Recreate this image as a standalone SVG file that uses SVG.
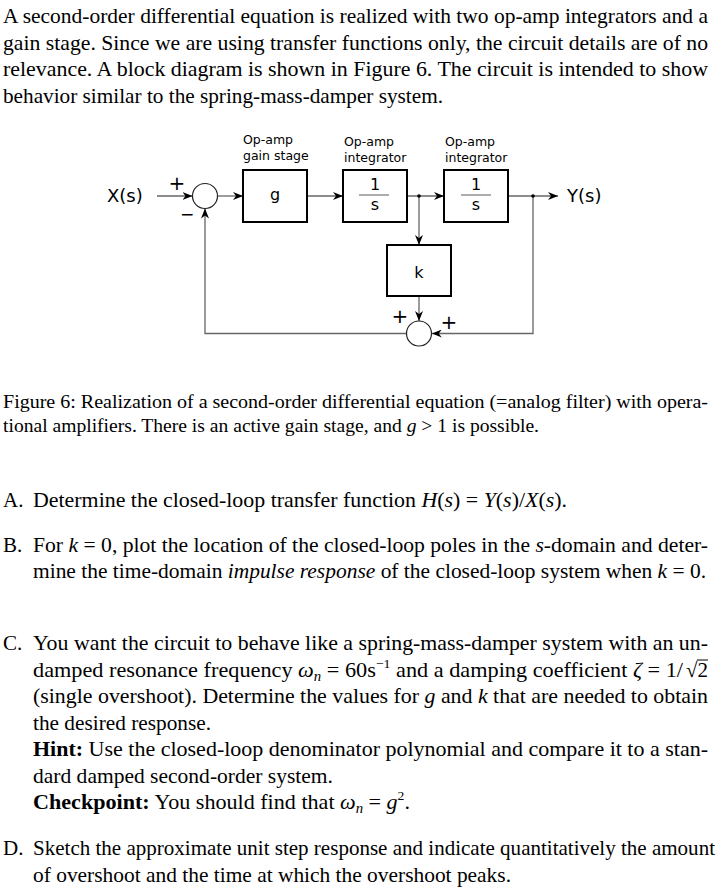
<svg xmlns="http://www.w3.org/2000/svg" width="726" height="894" viewBox="0 0 726 894">
<style>
.t{font-family:"Liberation Serif",serif;font-size:21px;fill:#000}
.cap{font-size:19px}
.i{font-style:italic}
.b{font-weight:bold}
.sf{font-family:"DejaVu Sans",sans-serif;fill:#000}
.lab{font-size:12.5px}
.io{font-size:18px}
.blk{font-size:16px;text-anchor:middle}
.pm{font-size:20px;text-anchor:middle}
.box{fill:#fff;stroke:#000;stroke-width:2}
.sum{fill:#fff;stroke:#222;stroke-width:1.2}
.wire{fill:none;stroke:#666;stroke-width:1.3}
.arr{marker-end:url(#ah)}
</style>
<defs>
<marker id="ah" viewBox="0 0 10 8" refX="10" refY="4" markerWidth="10" markerHeight="8" markerUnits="userSpaceOnUse" orient="auto">
<path d="M10,4 L0,0 L3,4 L0,8 Z" fill="#000"/>
</marker>
</defs>
<rect width="726" height="894" fill="#fff"/>

<g id="intro">
<text class="t" x="3" y="23" textLength="705" lengthAdjust="spacingAndGlyphs">A second-order differential equation is realized with two op-amp integrators and a</text>
<text class="t" x="3" y="49.5" textLength="705" lengthAdjust="spacingAndGlyphs">gain stage. Since we are using transfer functions only, the circuit details are of no</text>
<text class="t" x="3" y="76" textLength="705" lengthAdjust="spacingAndGlyphs">relevance.  A block diagram is shown in Figure 6. The circuit is intended to show</text>
<text class="t" x="3" y="102.5" textLength="440" lengthAdjust="spacingAndGlyphs">behavior similar to the spring-mass-damper system.</text>
</g>

<g id="connectors">
<line class="wire arr" x1="157" y1="196" x2="192.5" y2="196"/>
<line class="wire arr" x1="217.5" y1="196" x2="243" y2="196"/>
<line class="wire arr" x1="307" y1="196" x2="343" y2="196"/>
<line class="wire arr" x1="407" y1="196" x2="444" y2="196"/>
<line class="wire arr" x1="508" y1="196" x2="558" y2="196"/>
<line class="wire arr" x1="419" y1="196" x2="419" y2="245"/>
<line class="wire arr" x1="419" y1="296" x2="419" y2="321"/>
<polyline class="wire arr" points="533,196 533,333.5 431.8,333.5"/>
<polyline class="wire arr" points="406.8,333.5 205,333.5 205,208.5"/>
<circle cx="419" cy="196" r="1.8" fill="#000"/>
<circle cx="533" cy="196" r="1.8" fill="#000"/>
</g>

<g id="input">
<text class="sf io" x="107" y="202">X(s)</text>
</g>
<g id="output">
<text class="sf io" x="567" y="202">Y(s)</text>
</g>

<g id="sum1">
<circle class="sum" cx="205" cy="196" r="12.5"/>
<text class="sf pm" x="177" y="190">+</text>
<text class="sf pm" x="187" y="220" style="font-size:17px">−</text>
</g>

<g id="gain">
<text class="sf lab" x="243" y="143.5">Op-amp</text>
<text class="sf lab" x="243" y="159.5">gain stage</text>
<rect class="box" x="243" y="170" width="64" height="52"/>
<text class="sf blk" x="275" y="200">g</text>
</g>

<g id="int1">
<text class="sf lab" x="344" y="145.5">Op-amp</text>
<text class="sf lab" x="344" y="161.5">integrator</text>
<rect class="box" x="343" y="170" width="64" height="52"/>
<text class="sf blk" x="375" y="190">1</text>
<line x1="359" y1="195" x2="389" y2="195" stroke="#777" stroke-width="1.2"/>
<text class="sf blk" x="375" y="210">s</text>
</g>

<g id="int2">
<text class="sf lab" x="445" y="145.5">Op-amp</text>
<text class="sf lab" x="445" y="161.5">integrator</text>
<rect class="box" x="444" y="170" width="64" height="52"/>
<text class="sf blk" x="476" y="190">1</text>
<line x1="461" y1="195" x2="491" y2="195" stroke="#777" stroke-width="1.2"/>
<text class="sf blk" x="476" y="210">s</text>
</g>

<g id="kgain">
<rect class="box" x="387" y="245" width="64" height="51"/>
<text class="sf blk" x="419" y="277.5">k</text>
</g>

<g id="sum2">
<circle class="sum" cx="419" cy="333.5" r="12.5"/>
<text class="sf pm" x="400" y="322.5">+</text>
<text class="sf pm" x="449" y="329">+</text>
</g>

<g id="caption">
<text class="t cap" x="3" y="408" textLength="705" lengthAdjust="spacingAndGlyphs">Figure 6:  Realization of a second-order differential equation (=analog filter) with opera-</text>
<text class="t cap" x="3" y="432" textLength="536" lengthAdjust="spacingAndGlyphs">tional amplifiers. There is an active gain stage, and <tspan class="i">g</tspan> &gt; 1 is possible.</text>
</g>

<g id="qA">
<text class="t" x="3" y="506.5">A.</text>
<text class="t" x="33" y="506.5" textLength="534" lengthAdjust="spacingAndGlyphs">Determine the closed-loop transfer function <tspan class="i">H</tspan>(<tspan class="i">s</tspan>) = <tspan class="i">Y</tspan>(<tspan class="i">s</tspan>)/<tspan class="i">X</tspan>(<tspan class="i">s</tspan>).</text>
</g>

<g id="qB">
<text class="t" x="3" y="551.5">B.</text>
<text class="t" x="33" y="551.5" textLength="675" lengthAdjust="spacingAndGlyphs">For <tspan class="i">k</tspan> = 0, plot the location of the closed-loop poles in the <tspan class="i">s</tspan>-domain and deter-</text>
<text class="t" x="33" y="578" textLength="673" lengthAdjust="spacingAndGlyphs">mine the time-domain <tspan class="i">impulse response</tspan> of the closed-loop system when <tspan class="i">k</tspan> = 0.</text>
</g>

<g id="qC">
<text class="t" x="3" y="650">C.</text>
<text class="t" x="33" y="650" textLength="675" lengthAdjust="spacingAndGlyphs">You want the circuit to behave like a spring-mass-damper system with an un-</text>
<text class="t" x="33" y="676.5" textLength="650" lengthAdjust="spacingAndGlyphs">damped resonance frequency <tspan class="i">ω</tspan><tspan class="i" font-size="14" dy="4">n</tspan><tspan dy="-4"> = 60s</tspan><tspan font-size="13" dy="-9">−1</tspan><tspan dy="9"> and a damping coefficient </tspan><tspan class="i">ζ</tspan> = 1/</text>
<text class="t" x="686" y="676.5">√2</text>
<line x1="697" y1="660" x2="708" y2="660" stroke="#000" stroke-width="1"/>
<text class="t" x="33" y="703" textLength="675" lengthAdjust="spacingAndGlyphs">(single overshoot). Determine the values for <tspan class="i">g</tspan> and <tspan class="i">k</tspan> that are needed to obtain</text>
<text class="t" x="33" y="729.5" textLength="178" lengthAdjust="spacingAndGlyphs">the desired response.</text>
<text class="t" x="33" y="756" textLength="675" lengthAdjust="spacingAndGlyphs"><tspan class="b">Hint:</tspan> Use the closed-loop denominator polynomial and compare it to a stan-</text>
<text class="t" x="33" y="782.5" textLength="300" lengthAdjust="spacingAndGlyphs">dard damped second-order system.</text>
<text class="t" x="33" y="809" textLength="377" lengthAdjust="spacingAndGlyphs"><tspan class="b">Checkpoint:</tspan> You should find that <tspan class="i">ω</tspan><tspan class="i" font-size="14" dy="4">n</tspan><tspan dy="-4"> = </tspan><tspan class="i">g</tspan><tspan font-size="13" dy="-9">2</tspan><tspan dy="9">.</tspan></text>
</g>

<g id="qD">
<text class="t" x="3" y="855">D.</text>
<text class="t" x="33" y="855" textLength="682" lengthAdjust="spacingAndGlyphs">Sketch the approximate unit step response and indicate quantitatively the amount</text>
<text class="t" x="33" y="881.5" textLength="478" lengthAdjust="spacingAndGlyphs">of overshoot and the time at which the overshoot peaks.</text>
</g>
</svg>
